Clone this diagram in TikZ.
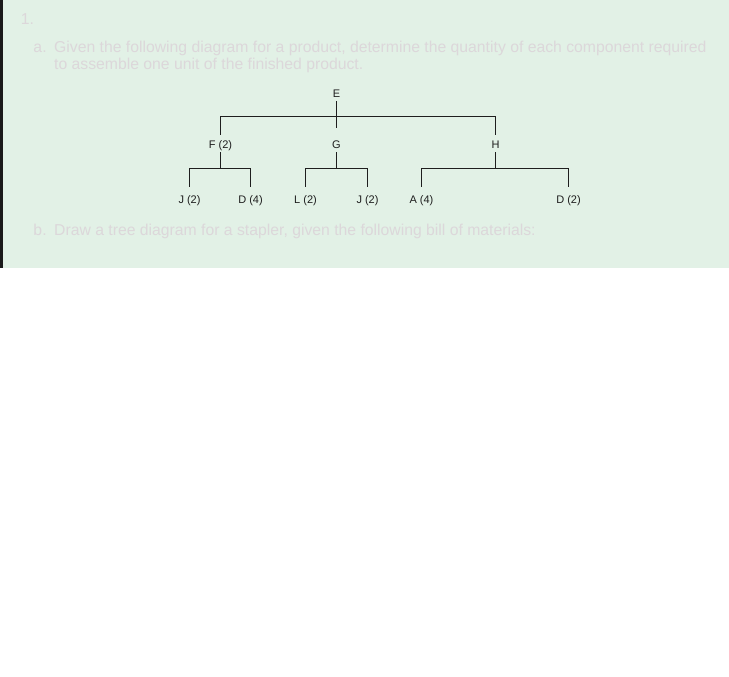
\documentclass[tikz,border=0pt]{standalone}
\usepackage{fontspec}
\setmainfont{Liberation Sans}
\definecolor{bggreen}{RGB}{226,241,230}
\definecolor{paletext}{RGB}{220,215,218}
\definecolor{darkbar}{RGB}{26,26,26}
\definecolor{ink}{RGB}{30,30,30}
\begin{document}
\begin{tikzpicture}[x=1pt,y=-1pt,
  bodytext/.style={anchor=base west,inner sep=0pt,text=paletext,font=\fontsize{15.75pt}{17pt}\selectfont},
  partlabel/.style={anchor=base,inner sep=0pt,text=ink,font=\fontsize{11pt}{12pt}\selectfont,text height=7.9pt,text depth=0pt},
  treeline/.style={draw=ink,line width=1.1pt}]
\useasboundingbox (0,0) rectangle (729,677);
\fill[white] (0,0) rectangle (729,677);
\fill[bggreen] (0,0) rectangle (729,268);
\fill[darkbar] (0,0) rectangle (3,268);
% texts
\node[bodytext] (n1) at (20.7,25) {1.};
\node[bodytext] (qa) at (33.3,52.3) {a.};
\node[bodytext] (qa1) at (54,52.3) {Given the following diagram for a product, determine the quantity of each component required};
\node[bodytext] (qa2) at (54,69.3) {to assemble one unit of the finished product.};
\node[bodytext] (qb) at (33.3,235) {b.};
\node[bodytext] (qb1) at (54,235) {Draw a tree diagram for a stapler, given the following bill of materials:};
% tree nodes
\node[partlabel] (E) at (336.5,97.3) {E};
\node[partlabel] (F) at (220.5,149) {F (2)};
\node[partlabel] (G) at (336.5,149) {G};
\node[partlabel] (H) at (495.5,149) {H};
\node[partlabel] (J1) at (189.5,203) {J (2)};
\node[partlabel] (D1) at (250.5,203) {D (4)};
\node[partlabel] (L) at (305.5,203) {L (2)};
\node[partlabel] (J2) at (367.5,203) {J (2)};
\node[partlabel] (A) at (421.5,203) {A (4)};
\node[partlabel] (D2) at (568.5,203) {D (2)};
\coordinate (ebar) at (336.5,116.5);
\coordinate (fbar) at (220.5,168.5);
\coordinate (gbar) at (336.5,168.5);
\coordinate (hbar) at (495.5,168.5);
% connectors
\draw[treeline] ([yshift=-3.7pt]E.south) -- ([yshift=13.1pt]G.north);
\draw[treeline] ([yshift=6.1pt]F.north) |- (ebar) -| ([yshift=6.1pt]H.north);
\draw[treeline] ([yshift=-3pt]F.south) -- (fbar);
\draw[treeline] ([yshift=-3pt]G.south) -- (gbar);
\draw[treeline] ([yshift=-3pt]H.south) -- (hbar);
\draw[treeline] ([yshift=8.1pt]J1.north) |- (fbar) -| ([yshift=8.1pt]D1.north);
\draw[treeline] ([yshift=8.1pt]L.north) |- (gbar) -| ([yshift=8.1pt]J2.north);
\draw[treeline] ([yshift=8.1pt]A.north) |- (hbar) -| ([yshift=8.1pt]D2.north);
\end{tikzpicture}
\end{document}
